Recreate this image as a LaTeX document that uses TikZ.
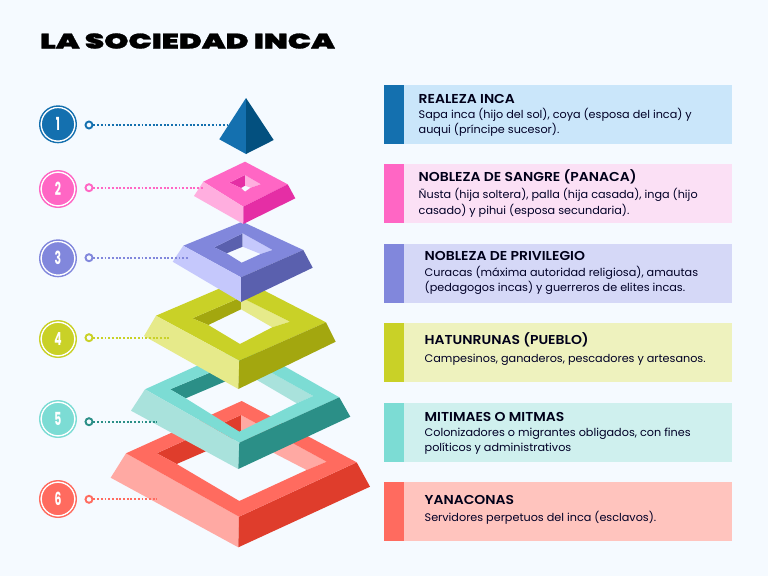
\documentclass[tikz,border=0pt]{standalone}
\usepackage{fontspec}
\setmainfont[FakeStretch=1.02]{Poppins}
\newfontfamily\titlefont[FakeStretch=1.47,FakeBold=1.2]{Poppins Black}
\newfontfamily\numfont[FakeStretch=0.6]{Poppins Bold}
\newfontfamily\headfont[FakeStretch=1.08]{Poppins SemiBold}
\definecolor{bg}{HTML}{F5FAFF}
\definecolor{cA}{HTML}{1470AF}\definecolor{cAd}{HTML}{03507F}\definecolor{cAf}{HTML}{CAE6FA}
\definecolor{cB}{HTML}{FF66C4}\definecolor{cBl}{HTML}{FFAEDF}\definecolor{cBd}{HTML}{E52EA5}\definecolor{cBf}{HTML}{FBE0F5}
\definecolor{cC}{HTML}{8187DC}\definecolor{cCl}{HTML}{C5C8FC}\definecolor{cCd}{HTML}{5A60AE}\definecolor{cCf}{HTML}{D5D8F7}
\definecolor{cD}{HTML}{C9D127}\definecolor{cDl}{HTML}{E6EA8A}\definecolor{cDd}{HTML}{A3A70F}\definecolor{cDf}{HTML}{EEF2BE}
\definecolor{cE}{HTML}{7CDCD4}\definecolor{cEl}{HTML}{A9E2DC}\definecolor{cEd}{HTML}{2B8F87}\definecolor{cEf}{HTML}{CFF0EE}
\definecolor{cF}{HTML}{FF6B5F}\definecolor{cFl}{HTML}{FFA9A3}\definecolor{cFd}{HTML}{DF3D2C}\definecolor{cFf}{HTML}{FFC4BE}
\tikzset{
  badge/.style={circle,fill=#1,draw=white,line width=1.2pt,minimum size=33.5pt,inner sep=0pt,text=white,font=\numfont\fontsize{18}{18}\selectfont},
  badgering/.style={circle,draw=#1,line width=1.5pt,minimum size=36.5pt,inner sep=0pt},
  dotend/.style={circle,draw=#1,fill=bg,line width=1.9pt,minimum size=7pt,inner sep=0pt},
  leader/.style={draw=#1,line width=2pt,dash pattern=on 1.9pt off 1.8pt},
  panelbox/.style={fill=#1,draw=none,minimum width=327.7pt,minimum height=59pt,inner sep=0pt,anchor=north west},
  panelbar/.style={fill=#1,draw=none,minimum width=20pt,minimum height=59pt,inner sep=0pt,anchor=north west},
  heading/.style={anchor=base west,inner sep=0pt,font=\headfont\fontsize{12.9}{14}\selectfont,text=black!90!blue},
  bodytext/.style={anchor=base west,inner sep=0pt,font=\fontsize{11}{13}\selectfont,text=black!85!blue},
}
\begin{document}
\begin{tikzpicture}[x=1pt,y=-1pt]
\useasboundingbox (0,0) rectangle (768,576);
\fill[bg] (0,0) rectangle (768,576);
\node[anchor=base west,inner sep=0pt,font=\titlefont\fontsize{21}{24}\selectfont] (title) at (40,48.5) {LA SOCIEDAD INCA};

% tier 6
\fill[cFl] (126,453.3)--(239,516.7)--(238.3,547.3)--(110.7,477.7)--cycle;
\fill[cFd] (356.7,462.3)--(239,516.7)--(238.3,547.3)--(370,486.7)--cycle;
\fill[cFd] (241,415)--(156.7,453.3)--(176.7,464)--(241,436)--cycle;
\fill[cFl] (241,415)--(326.7,461.7)--(306.7,470)--(241,436)--cycle;
\fill[cF,even odd rule] (241.7,401)--(126,453.3)--(239,516.7)--(356.7,462.3)--cycle
  (241,415)--(156.7,453.3)--(176.7,464)--(239.3,501)--(306.7,470)--(326.7,461.7)--cycle;
% tier 5
\fill[cEd] (245,358)--(170,389.3)--(185.7,398.3)--(245,373)--cycle;
\fill[cEl] (245,358)--(313.3,396)--(296.7,403.3)--(245,373)--cycle;
\fill[cE,even odd rule] (245,344)--(145,389.3)--(239.3,442.7)--(339.3,397.3)--cycle
  (245,358)--(170,389.3)--(185.7,398.3)--(239.3,431.7)--(296.7,403.3)--(313.3,396)--cycle;
\fill[cEl] (145,389.3)--(239.3,442.7)--(238.3,469)--(131,410.7)--cycle;
\fill[cEd] (339.3,397.3)--(239.3,442.7)--(238.3,469)--(350.3,416.7)--cycle;
% tier 4
\fill[cDd] (241,297.3)--(192.3,318.3)--(208.3,325)--(241,309.3)--cycle;
\fill[cDl] (241,297.3)--(290,321.7)--(272.3,327.3)--(241,309.3)--cycle;
\fill[cD,even odd rule] (241.7,279)--(156,315.7)--(239.3,360.7)--(326,322.3)--cycle
  (241,297.3)--(192.3,318.3)--(208.3,325)--(240,344)--(272.3,327.3)--(290,321.7)--cycle;
\fill[cDl] (156,315.7)--(239.3,360.7)--(238.3,389)--(144,336)--cycle;
\fill[cDd] (326,322.3)--(239.3,360.7)--(238.3,389)--(335.7,341.7)--cycle;
% tier 3
\fill[cCd] (242.7,233.3)--(214.3,247.3)--(226.7,253.3)--(242.7,246.7)--cycle;
\fill[cCl] (242.7,233.3)--(272.7,250)--(260.7,254)--(242.7,246.7)--cycle;
\fill[cC,even odd rule] (242.3,221.7)--(183.3,245.7)--(241,277.3)--(303.3,250)--cycle
  (242.7,233.3)--(214.3,247.3)--(226.7,253.3)--(241.7,262.7)--(260.7,254)--(272.7,250)--cycle;
\fill[cCl] (183.3,245.7)--(241,277.3)--(241,302)--(172.7,261.7)--cycle;
\fill[cCd] (303.3,250)--(241,277.3)--(241,302)--(312.7,267.7)--cycle;
% tier 2
\fill[cBd] (245,175)--(229.3,182.7)--(241,188)--(245,185.7)--cycle;
\fill[cBl] (245,175)--(261,184.3)--(250.7,187.7)--(245,185.7)--cycle;
\fill[cB,even odd rule] (245,161.7)--(203.3,181.7)--(243.3,206.7)--(287.7,184.3)--cycle
  (245,175)--(229.3,182.7)--(241,188)--(245,191.7)--(250.7,187.7)--(261,184.3)--cycle;
\fill[cBl] (203.3,181.7)--(243.3,206.7)--(243.3,224)--(194,196)--cycle;
\fill[cBd] (287.7,184.3)--(243.3,206.7)--(243.3,224)--(295.3,198.3)--cycle;
% tier 1
\fill[cA] (246,98)--(219.3,139.3)--(246,154)--cycle;
\fill[cAd] (246,98)--(273.7,140)--(246,154)--cycle;

% panels
\node[panelbox=cAf] (p1) at (404,84.3) {};
\node[panelbar=cA] (b1) at (384,84.3) {};
\node[panelbox=cBf] (p2) at (404,164) {};
\node[panelbar=cB] (b2) at (384,164) {};
\node[panelbox=cCf] (p3) at (404,243.5) {};
\node[panelbar=cC] (b3) at (384,243.5) {};
\node[panelbox=cDf] (p4) at (404,323) {};
\node[panelbar=cD] (b4) at (384,323) {};
\node[panelbox=cEf] (p5) at (404,403) {};
\node[panelbar=cE] (b5) at (384,403) {};
\node[panelbox=cFf] (p6) at (404,482) {};
\node[panelbar=cF] (b6) at (384,482) {};

\node[heading] (h1) at (418.5,103) {REALEZA INCA};
\node[bodytext] (t1a) at (418.5,118) {Sapa inca (hijo del sol), coya (esposa del inca) y};
\node[bodytext] (t1b) at (418.5,133) {auqui (príncipe sucesor).};
\node[heading] (h2) at (418.5,181) {NOBLEZA DE SANGRE (PANACA)};
\node[bodytext] (t2a) at (418.5,198) {Ñusta (hija soltera), palla (hija casada), inga (hijo};
\node[bodytext] (t2b) at (418.5,214) {casado) y pihui (esposa secundaria).};
\node[heading] (h3) at (424.5,260) {NOBLEZA DE PRIVILEGIO};
\node[bodytext] (t3a) at (424.5,276) {Curacas (máxima autoridad religiosa), amautas};
\node[bodytext] (t3b) at (424.5,291) {(pedagogos incas) y guerreros de elites incas.};
\node[heading] (h4) at (424.5,344) {HATUNRUNAS (PUEBLO)};
\node[bodytext] (t4a) at (424.5,362) {Campesinos, ganaderos, pescadores y artesanos.};
\node[heading] (h5) at (424.5,421) {MITIMAES O MITMAS};
\node[bodytext] (t5a) at (424.5,436) {Colonizadores o migrantes obligados, con fines};
\node[bodytext] (t5b) at (424.5,451) {políticos y administrativos};
\node[heading] (h6) at (424.5,504) {YANACONAS};
\node[bodytext] (t6a) at (424.5,521) {Servidores perpetuos del inca (esclavos).};

% badges
\node[badgering=cA] (r1) at (58,124.3) {};
\node[badge=cA] (n1) at (58,124.3) {1};
\node[badgering=cB] (r2) at (58,189) {};
\node[badge=cB] (n2) at (58,189) {2};
\node[badgering=cC] (r3) at (58,258.3) {};
\node[badge=cC] (n3) at (58,258.3) {3};
\node[badgering=cD] (r4) at (58,339) {};
\node[badge=cD] (n4) at (58,339) {4};
\node[badgering=cE] (r5) at (58,419) {};
\node[badge=cE] (n5) at (58,419) {5};
\node[badgering=cF] (r6) at (58,499) {};
\node[badge=cF] (n6) at (58,499) {6};

% leaders
\node[dotend=cA] (d1) at (89,125) {};
\node[dotend=cB] (d2) at (89,187.7) {};
\node[dotend=cC] (d3) at (89,257.7) {};
\node[dotend=cD] (d4) at (89,337.7) {};
\node[dotend=cEd] (d5) at (89,421.7) {};
\node[dotend=cF] (d6) at (89,499.3) {};
\coordinate (e1) at (226.7,125);
\coordinate (e2) at (202.7,187.7);
\coordinate (e3) at (189,257.7);
\coordinate (e4) at (171,337.7);
\coordinate (e5) at (157,421.7);
\coordinate (e6) at (157,499.3);
\draw[leader=cA] (d1) -- (e1);
\draw[leader=cB] (d2) -- (e2);
\draw[leader=cC] (d3) -- (e3);
\draw[leader=cD] (d4) -- (e4);
\draw[leader=cEd] (d5) -- (e5);
\draw[leader=cF] (d6) -- (e6);
\end{tikzpicture}
\end{document}
